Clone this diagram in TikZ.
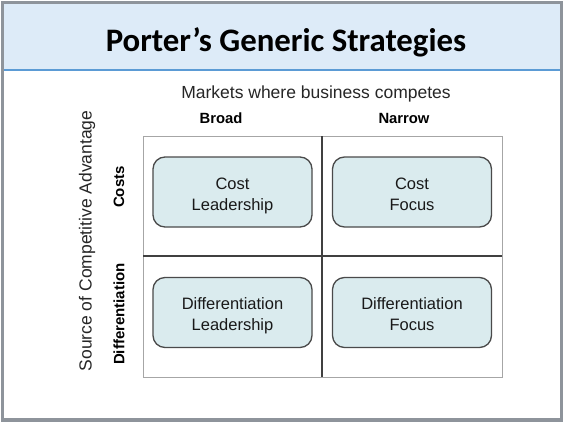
\documentclass[tikz,border=0pt]{standalone}
\usepackage{fontspec}
\setmainfont{Liberation Sans}
\newfontfamily\titlefont{Carlito}
\usetikzlibrary{positioning}
\definecolor{bandblue}{HTML}{DDEBF8}
\definecolor{bandline}{HTML}{5B9BD5}
\definecolor{framegray}{HTML}{8E949B}
\definecolor{boxfill}{HTML}{DAEBEE}
\definecolor{boxline}{HTML}{4A4A4A}
\definecolor{gridgray}{HTML}{A6A6A6}
\tikzset{
  strat/.style={draw=boxline, line width=1.3pt, rounded corners=12pt, fill=boxfill,
                minimum width=159pt, minimum height=70pt, align=center,
                font=\fontsize{16.5}{21}\selectfont, text=black!90,
                execute at begin node={\rule{0pt}{43pt}}, execute at end node=\strut},
  colhead/.style={font=\fontsize{14.8}{17}\selectfont\bfseries},
  rowhead/.style={font=\fontsize{15}{17}\selectfont\bfseries, rotate=90},
  axislbl/.style={font=\fontsize{17.5}{20}\selectfont, text=black!85},
  gridout/.style={draw=gridgray, line width=1pt},
  gridin/.style={draw=black!75, line width=1.4pt},
}

\begin{document}
\begin{tikzpicture}[x=1pt, y=-1pt]
  \useasboundingbox (0,0) rectangle (564,423);
  % title band
  \fill[bandblue] (3,3) rectangle (561,70);
  \draw[bandline, line width=1.5pt] (3,70) -- (561,70);
  \node[font=\titlefont\fontsize{32.8}{38}\selectfont\bfseries] (title) at (286,42) {Porter’s Generic Strategies};
  \draw[framegray, line width=3.5pt] (2.5,2.5) rectangle (561.5,420);

  % matrix
  \draw[gridout] (143,136) rectangle (502,377);
  \draw[gridin] (322,136) -- (322,377);
  \draw[gridin] (143,256) -- (502,256);

  \foreach \n/\x/\y/\txt in {cl/232.5/192/{Cost\\Leadership}, cf/412/192/{Cost\\Focus},
                             dl/232.5/312.5/{Differentiation\\Leadership}, df/412/312.5/{Differentiation\\Focus}}{
    \node[strat] (\n) at (\x,\y) {\txt};
  }

  % axis labels
  \node[axislbl] (mkt) at (316,94) {Markets where business competes};
  \node[colhead] (broad) at (221,118) {Broad};
  \node[colhead] (narrow) at (404,118) {Narrow};
  \node[axislbl, rotate=90] (src) at (87,241) {Source of Competitive Advantage};
  \node[rowhead] (costs) at (119,187) {Costs};
  \node[rowhead] (diff) at (119,314) {Differentiation};
\end{tikzpicture}
\end{document}
